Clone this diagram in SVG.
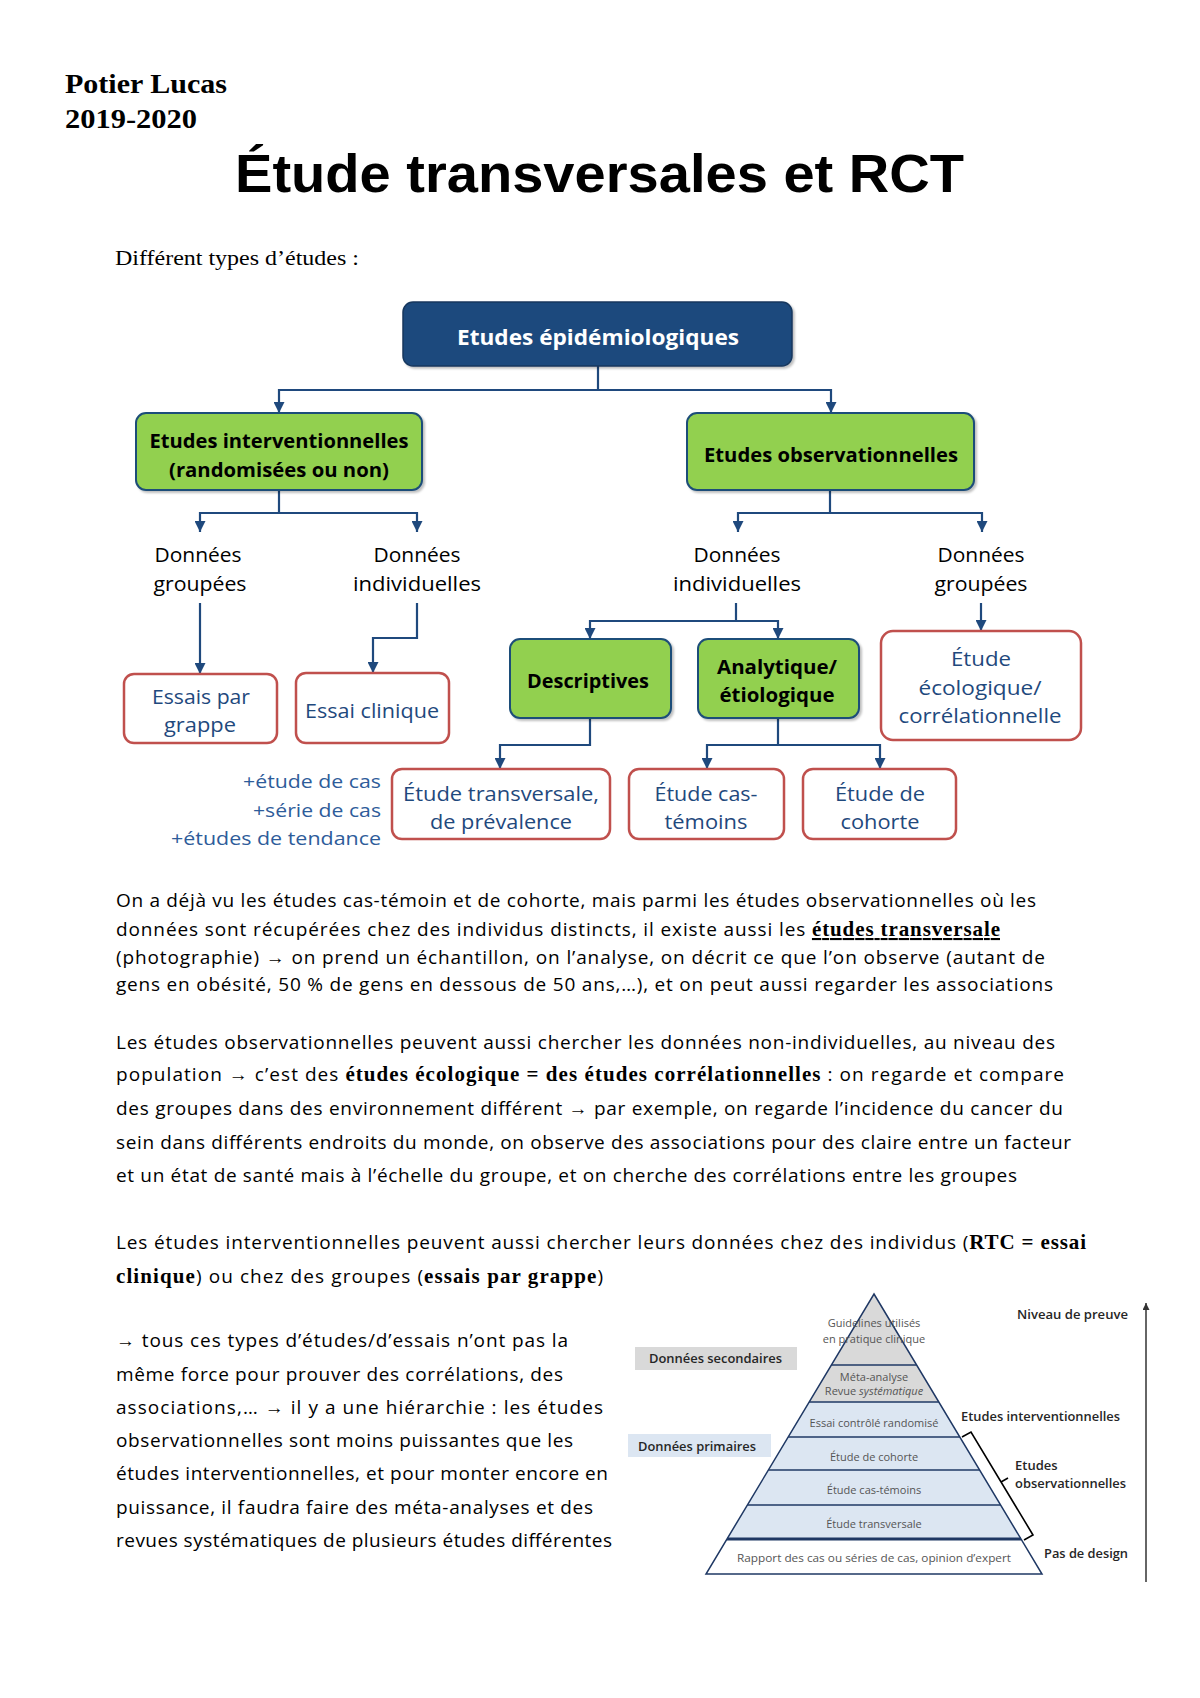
<svg xmlns="http://www.w3.org/2000/svg" width="1200" height="1698" viewBox="0 0 1200 1698">
<style>
.hd{font-family:"Liberation Serif",serif;font-weight:bold;font-size:28px;fill:#000}
.title{font-family:"Liberation Sans",Arial,sans-serif;font-weight:bold;font-size:54px;fill:#000}
.sub{font-family:"Liberation Serif",serif;font-size:22px;fill:#000}
.body{font-family:"Open Sans","Liberation Sans",sans-serif;font-size:19px;fill:#000}
.b{font-family:"Liberation Serif",serif;font-weight:bold;font-size:21px}
.dl{font-family:"Open Sans","Liberation Sans",sans-serif;font-size:20px;fill:#000;text-anchor:middle}
.bl{font-family:"Open Sans","Liberation Sans",sans-serif;font-weight:bold;font-size:20px;fill:#000;text-anchor:middle}
.wt{font-family:"Open Sans","Liberation Sans",sans-serif;font-weight:bold;font-size:22px;fill:#fff;text-anchor:middle}
.rt{font-family:"Open Sans","Liberation Sans",sans-serif;font-size:20px;fill:#1f497d;text-anchor:middle}
.note{font-family:"Open Sans","Liberation Sans",sans-serif;font-size:19px;fill:#2e5c9a;text-anchor:end}
.green{fill:#92d050;stroke:#1f4e79;stroke-width:2}
.red{fill:#fff;stroke:#c0504d;stroke-width:2.5}
.top{fill:#1f497d;stroke:#17375e;stroke-width:1.5}
.con{fill:none;stroke:#1f497d;stroke-width:2.2}
.py{font-family:"Open Sans","Liberation Sans",sans-serif;font-size:11px;fill:#555;text-anchor:middle}
.pl{font-family:"Open Sans","Liberation Sans",sans-serif;font-weight:600;font-size:13px;fill:#262626}
</style>
<defs>
<marker id="ah" viewBox="0 0 10 10" refX="10" refY="5" markerWidth="11" markerHeight="11" markerUnits="userSpaceOnUse" orient="auto">
<path d="M0,0 L10,5 L0,10 z" fill="#1f497d"/>
</marker>
<marker id="ak" viewBox="0 0 10 10" refX="10" refY="5" markerWidth="7" markerHeight="7" markerUnits="userSpaceOnUse" orient="auto">
<path d="M0,0 L10,5 L0,10 z" fill="#333"/>
</marker>
<filter id="sh" x="-10%" y="-10%" width="120%" height="130%">
<feDropShadow dx="2" dy="2" stdDeviation="1.2" flood-color="#000" flood-opacity="0.25"/>
</filter>
</defs>
<rect width="1200" height="1698" fill="#fff"/>

<text class="hd" x="65" y="93" textLength="162" lengthAdjust="spacingAndGlyphs">Potier Lucas</text>
<text class="hd" x="65" y="128" textLength="132" lengthAdjust="spacingAndGlyphs">2019-2020</text>
<text class="title" x="235" y="192" textLength="729" lengthAdjust="spacingAndGlyphs">Étude transversales et RCT</text>
<text class="sub" x="115" y="265" textLength="244" lengthAdjust="spacingAndGlyphs">Différent types d’études :</text>

<g id="connectors">
<path class="con" d="M598 366 V390 H279 V413" marker-end="url(#ah)"/>
<path class="con" d="M598 390 H831 V413" marker-end="url(#ah)"/>
<path class="con" d="M279 490 V513 H200 V532" marker-end="url(#ah)"/>
<path class="con" d="M279 513 H417 V532" marker-end="url(#ah)"/>
<path class="con" d="M830 490 V513 H738 V532" marker-end="url(#ah)"/>
<path class="con" d="M830 513 H982 V532" marker-end="url(#ah)"/>
<path class="con" d="M200 603 V674" marker-end="url(#ah)"/>
<path class="con" d="M417 603 V638 H373 V673" marker-end="url(#ah)"/>
<path class="con" d="M736 603 V621 H590 V639" marker-end="url(#ah)"/>
<path class="con" d="M736 621 H778 V639" marker-end="url(#ah)"/>
<path class="con" d="M981 603 V631" marker-end="url(#ah)"/>
<path class="con" d="M590 718 V745 H500 V769" marker-end="url(#ah)"/>
<path class="con" d="M778 718 V745 H707 V769" marker-end="url(#ah)"/>
<path class="con" d="M778 745 H880 V769" marker-end="url(#ah)"/>
</g>

<g id="n-epi"><rect class="top" x="403" y="302" width="389" height="64" rx="10" filter="url(#sh)"/>
<text class="wt" x="598" y="345" textLength="282" lengthAdjust="spacingAndGlyphs">Etudes épidémiologiques</text></g>

<g id="n-interv"><rect class="green" x="136" y="413" width="286" height="77" rx="10" filter="url(#sh)"/>
<text class="bl" x="279" y="448" textLength="259" lengthAdjust="spacingAndGlyphs">Etudes interventionnelles</text>
<text class="bl" x="279" y="477" textLength="220" lengthAdjust="spacingAndGlyphs">(randomisées ou non)</text></g>

<g id="n-obs"><rect class="green" x="687" y="413" width="287" height="77" rx="10" filter="url(#sh)"/>
<text class="bl" x="831" y="462" textLength="254" lengthAdjust="spacingAndGlyphs">Etudes observationnelles</text></g>

<g id="l-dg1"><text class="dl" x="198" y="562" textLength="87" lengthAdjust="spacingAndGlyphs">Données</text>
<text class="dl" x="200" y="591" textLength="93" lengthAdjust="spacingAndGlyphs">groupées</text></g>
<g id="l-di1"><text class="dl" x="417" y="562" textLength="87" lengthAdjust="spacingAndGlyphs">Données</text>
<text class="dl" x="417" y="591" textLength="128" lengthAdjust="spacingAndGlyphs">individuelles</text></g>
<g id="l-di2"><text class="dl" x="737" y="562" textLength="87" lengthAdjust="spacingAndGlyphs">Données</text>
<text class="dl" x="737" y="591" textLength="128" lengthAdjust="spacingAndGlyphs">individuelles</text></g>
<g id="l-dg2"><text class="dl" x="981" y="562" textLength="87" lengthAdjust="spacingAndGlyphs">Données</text>
<text class="dl" x="981" y="591" textLength="93" lengthAdjust="spacingAndGlyphs">groupées</text></g>

<g id="n-grappe"><rect class="red" x="124" y="674" width="153" height="69" rx="10"/>
<text class="rt" x="201" y="704" textLength="98" lengthAdjust="spacingAndGlyphs">Essais par</text>
<text class="rt" x="200" y="732" textLength="72" lengthAdjust="spacingAndGlyphs">grappe</text></g>

<g id="n-clinique"><rect class="red" x="296" y="673" width="153" height="70" rx="10"/>
<text class="rt" x="372" y="718" textLength="134" lengthAdjust="spacingAndGlyphs">Essai clinique</text></g>

<g id="n-desc"><rect class="green" x="510" y="639" width="161" height="79" rx="10" filter="url(#sh)"/>
<text class="bl" x="588" y="688" textLength="122" lengthAdjust="spacingAndGlyphs">Descriptives</text></g>

<g id="n-analy"><rect class="green" x="698" y="639" width="161" height="79" rx="10" filter="url(#sh)"/>
<text class="bl" x="777" y="674" textLength="120" lengthAdjust="spacingAndGlyphs">Analytique/</text>
<text class="bl" x="777" y="702" textLength="115" lengthAdjust="spacingAndGlyphs">étiologique</text></g>

<g id="n-eco"><rect class="red" x="881" y="631" width="200" height="109" rx="12"/>
<text class="rt" x="981" y="666" textLength="60" lengthAdjust="spacingAndGlyphs">Étude</text>
<text class="rt" x="980" y="695" textLength="123" lengthAdjust="spacingAndGlyphs">écologique/</text>
<text class="rt" x="980" y="723" textLength="163" lengthAdjust="spacingAndGlyphs">corrélationnelle</text></g>

<g id="n-transv"><rect class="red" x="392" y="769" width="218" height="70" rx="10"/>
<text class="rt" x="501" y="801" textLength="196" lengthAdjust="spacingAndGlyphs">Étude transversale,</text>
<text class="rt" x="501" y="829" textLength="142" lengthAdjust="spacingAndGlyphs">de prévalence</text></g>

<g id="n-cas"><rect class="red" x="629" y="769" width="155" height="70" rx="10"/>
<text class="rt" x="706" y="801" textLength="103" lengthAdjust="spacingAndGlyphs">Étude cas-</text>
<text class="rt" x="706" y="829" textLength="83" lengthAdjust="spacingAndGlyphs">témoins</text></g>

<g id="n-cohorte"><rect class="red" x="803" y="769" width="153" height="70" rx="10"/>
<text class="rt" x="880" y="801" textLength="90" lengthAdjust="spacingAndGlyphs">Étude de</text>
<text class="rt" x="880" y="829" textLength="79" lengthAdjust="spacingAndGlyphs">cohorte</text></g>

<g id="notes">
<text class="note" x="381" y="788" textLength="138" lengthAdjust="spacingAndGlyphs">+étude de cas</text>
<text class="note" x="381" y="817" textLength="128" lengthAdjust="spacingAndGlyphs">+série de cas</text>
<text class="note" x="381" y="845" textLength="210" lengthAdjust="spacingAndGlyphs">+études de tendance</text>
</g>

<g id="para1" class="body">
<text x="116" y="907" textLength="920">On a déjà vu les études cas-témoin et de cohorte, mais parmi les études observationnelles où les</text>
<text x="116" y="936" textLength="884">données sont récupérées chez des individus distincts, il existe aussi les <tspan class="b" text-decoration="underline">études transversale</tspan></text>
<text x="116" y="964" textLength="929">(photographie) → on prend un échantillon, on l’analyse, on décrit ce que l’on observe (autant de</text>
<text x="116" y="991" textLength="937">gens en obésité, 50 % de gens en dessous de 50 ans,…), et on peut aussi regarder les associations</text>
</g>

<g id="para2" class="body">
<text x="116" y="1049" textLength="939">Les études observationnelles peuvent aussi chercher les données non-individuelles, au niveau des</text>
<text x="116" y="1081" textLength="948">population → c’est des <tspan class="b">études écologique = des études corrélationnelles</tspan> : on regarde et compare</text>
<text x="116" y="1115" textLength="947">des groupes dans des environnement différent → par exemple, on regarde l’incidence du cancer du</text>
<text x="116" y="1149" textLength="955">sein dans différents endroits du monde, on observe des associations pour des claire entre un facteur</text>
<text x="116" y="1182" textLength="901">et un état de santé mais à l’échelle du groupe, et on cherche des corrélations entre les groupes</text>
</g>

<g id="para3" class="body">
<text x="116" y="1249" textLength="970">Les études interventionnelles peuvent aussi chercher leurs données chez des individus (<tspan class="b">RTC = essai</tspan></text>
<text x="116" y="1283" textLength="487"><tspan class="b">clinique</tspan>) ou chez des groupes (<tspan class="b">essais par grappe</tspan>)</text>
</g>

<g id="para4" class="body">
<text x="116" y="1347" textLength="452">→ tous ces types d’études/d’essais n’ont pas la</text>
<text x="116" y="1381" textLength="447">même force pour prouver des corrélations, des</text>
<text x="116" y="1414" textLength="487">associations,… → il y a une hiérarchie : les études</text>
<text x="116" y="1447" textLength="457">observationnelles sont moins puissantes que les</text>
<text x="116" y="1480" textLength="492">études interventionnelles, et pour monter encore en</text>
<text x="116" y="1514" textLength="477">puissance, il faudra faire des méta-analyses et des</text>
<text x="116" y="1547" textLength="496">revues systématiques de plusieurs études différentes</text>
</g>

<g id="pyramid">
<polygon points="874,1294 916.6,1365 831.4,1365" fill="#d9d9d9"/>
<polygon points="831.4,1365 916.6,1365 938.8,1402 809.2,1402" fill="#d9d9d9"/>
<polygon points="809.2,1402 938.8,1402 1021,1539 727,1539" fill="#dce6f2"/>
<polygon points="727,1539 1021,1539 1042,1574 706,1574" fill="#fff"/>
<g stroke="#1f3864" stroke-width="1.5" fill="none">
<polygon points="874,1294 1042,1574 706,1574"/>
<line x1="831.4" y1="1365" x2="916.6" y2="1365"/>
<line x1="809.2" y1="1402" x2="938.8" y2="1402"/>
<line x1="788.2" y1="1437" x2="959.8" y2="1437"/>
<line x1="768.4" y1="1470" x2="979.6" y2="1470"/>
<line x1="747.4" y1="1505" x2="1000.6" y2="1505"/>
<line x1="727" y1="1539" x2="1021" y2="1539" stroke-width="3"/>
</g>
<text class="py" x="874" y="1327">Guidelines utilisés</text>
<text class="py" x="874" y="1343">en pratique clinique</text>
<text class="py" x="874" y="1381">Méta-analyse</text>
<text class="py" x="874" y="1395">Revue <tspan font-style="italic">systématique</tspan></text>
<text class="py" x="874" y="1427">Essai contrôlé randomisé</text>
<text class="py" x="874" y="1461">Étude de cohorte</text>
<text class="py" x="874" y="1494">Étude cas-témoins</text>
<text class="py" x="874" y="1528">Étude transversale</text>
<text class="py" x="874" y="1562" textLength="274" lengthAdjust="spacingAndGlyphs">Rapport des cas ou séries de cas, opinion d’expert</text>
</g>

<g id="lbl-secondaires"><rect x="635" y="1347" width="162" height="23" fill="#d9d9d9"/>
<text class="pl" x="649" y="1363" textLength="133" lengthAdjust="spacingAndGlyphs">Données secondaires</text></g>
<g id="lbl-primaires"><rect x="628" y="1434" width="143" height="23" fill="#dce6f2"/>
<text class="pl" x="638" y="1451" textLength="118" lengthAdjust="spacingAndGlyphs">Données primaires</text></g>

<g id="lbl-right">
<text class="pl" x="1017" y="1319" textLength="111" lengthAdjust="spacingAndGlyphs" font-weight="normal">Niveau de preuve</text>
<text class="pl" x="961" y="1421" textLength="159" lengthAdjust="spacingAndGlyphs" font-weight="normal">Etudes interventionnelles</text>
<text class="pl" x="1015" y="1470" font-weight="normal">Etudes</text>
<text class="pl" x="1015" y="1488" textLength="111" lengthAdjust="spacingAndGlyphs" font-weight="normal">observationnelles</text>
<text class="pl" x="1044" y="1558" textLength="84" lengthAdjust="spacingAndGlyphs" font-weight="normal">Pas de design</text>
<path d="M962 1437 L971 1432 L1033 1535 L1024 1540" fill="none" stroke="#000" stroke-width="1.6"/>
<path d="M1001 1482 L1008 1478" fill="none" stroke="#000" stroke-width="1.6"/>
<line x1="1146" y1="1582" x2="1146" y2="1303" stroke="#333" stroke-width="1.5" marker-end="url(#ak)"/>
</g>
</svg>
